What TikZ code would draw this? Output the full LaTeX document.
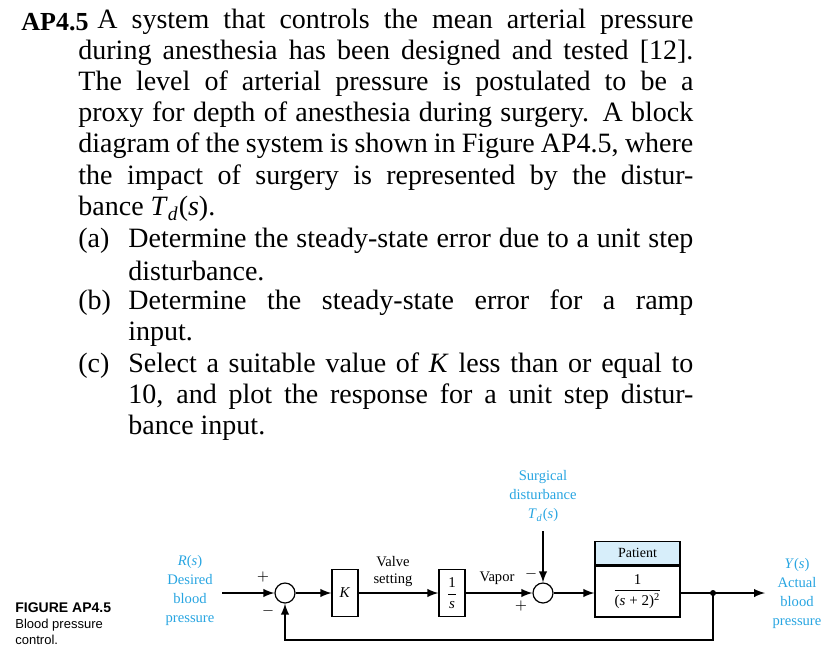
\documentclass[tikz,border=0pt]{standalone}
\usepackage{amsmath}
\usepackage{fontspec}
\setmainfont{Liberation Serif}
\newfontfamily\sansf{Liberation Sans}
\usetikzlibrary{positioning}
\definecolor{lblue}{RGB}{40,165,225}
\definecolor{hdr}{RGB}{215,238,250}
\newcommand{\mv}[1]{\textit{#1}}
\begin{document}
\begin{tikzpicture}
[x=0.5pt,y=-0.5pt,
 lineDecorate/.style={-latex,line width=0.9pt},
 blockDecorate/.style={draw,line width=0.6pt,minimum width=13pt,minimum height=23.5pt,inner sep=1pt,font=\fontsize{7.5}{8}\selectfont},
 sumDecorate/.style={shape=circle,draw,line width=0.6pt,minimum size=10pt,inner sep=0pt},
 lblDecorate/.style={text=lblue,align=center,font=\fontsize{7.3}{9.5}\selectfont},
 txtDecorate/.style={anchor=west,inner sep=0pt,font=\fontsize{14}{15.5}\selectfont},
 sgnDecorate/.style={font=\fontsize{7}{8}\selectfont,inner sep=0pt}]
\useasboundingbox (0,0) rectangle (822,664);

% problem text
\node[txtDecorate,font=\fontsize{13}{15.5}\selectfont] (head) at (21,22) {\textbf{AP4.5}};
\node[txtDecorate] (t1) at (97,22) {\makebox[298pt][s]{A system that controls the mean arterial pressure}};
\node[txtDecorate] (t2) at (78,53) {\makebox[307.5pt][s]{during anesthesia has been designed and tested [12].}};
\node[txtDecorate] (t3) at (78,84) {\makebox[307.5pt][s]{The level of arterial pressure is postulated to be a}};
\node[txtDecorate] (t4) at (78,115) {\makebox[307.5pt][s]{proxy for depth of anesthesia during surgery. A block}};
\node[txtDecorate] (t5) at (78,146) {\makebox[307.5pt][s]{diagram of the system is shown in Figure AP4.5, where}};
\node[txtDecorate] (t6) at (78,178) {\makebox[307.5pt][s]{the impact of surgery is represented by the distur-}};
\node[txtDecorate] (t7) at (78,209) {bance \mv{T}\textsubscript{\mv{d}}(\mv{s}).};
\node[txtDecorate] (pa) at (78,241) {(a)};
\node[txtDecorate] (t8) at (128,241) {\makebox[282.5pt][s]{Determine the steady-state error due to a unit step}};
\node[txtDecorate] (t9) at (128,271) {disturbance.};
\node[txtDecorate] (pb) at (78,303) {(b)};
\node[txtDecorate] (t10) at (128,303) {\makebox[282.5pt][s]{Determine the steady-state error for a ramp}};
\node[txtDecorate] (t11) at (128,334) {input.};
\node[txtDecorate] (pc) at (78,366) {(c)};
\node[txtDecorate] (t12) at (128,366) {\makebox[282.5pt][s]{Select a suitable value of \mv{K} less than or equal to}};
\node[txtDecorate] (t13) at (128,397) {\makebox[282.5pt][s]{10, and plot the response for a unit step distur-}};
\node[txtDecorate] (t14) at (128,428) {bance input.};

% caption
\node[anchor=north west,inner sep=0pt,align=left,font=\sansf\fontsize{6.5}{8}\selectfont] (cap) at (15,602)
 {\textbf{\fontsize{7}{8}\selectfont FIGURE AP4.5}\\Blood pressure\\control.};

% block diagram
\node[sumDecorate] (S1) at (285,593) {};
\node[blockDecorate] (K) at (345,593) {\mv{K}};
\node[blockDecorate] (I) at (452,593) {$\dfrac{\text{1}}{\text{\mv{s}}}$};
\node[sumDecorate] (S2) at (543,593) {};
\node[draw,line width=0.6pt,minimum width=42.5pt,minimum height=25.5pt,inner sep=0pt,font=\fontsize{7.5}{8}\selectfont] (P) at (637.5,591.5) {$\dfrac{\text{1}}{\text{(\mv{s} + 2)}^{\text{2}}}$};
\node[draw,line width=0.6pt,fill=hdr,minimum width=42.5pt,minimum height=11.5pt,inner sep=0pt,anchor=south,font=\fontsize{7}{8}\selectfont] (Ph) at (P.north) {Patient};
\coordinate (R0) at (222,593);
\coordinate (B) at (713,593);
\coordinate (Y0) at (765,593);
\coordinate (F1) at (713,640);
\coordinate (F2) at (285,640);
\coordinate (T0) at (543,531);

\node[lblDecorate] (Rl) at (190,590) {\mv{R}(\mv{s})\\Desired\\blood\\pressure};
\node[lblDecorate] (Yl) at (797,593) {\mv{Y}(\mv{s})\\Actual\\blood\\pressure};
\node[lblDecorate,above=1pt of T0] (Tl) {Surgical\\disturbance\\\mv{T}\textsubscript{\mv{d}}(\mv{s})};
\node[align=center,font=\fontsize{7.3}{8.5}\selectfont] (vs) at (393,571) {Valve\\setting};
\node[font=\fontsize{7.3}{8}\selectfont] (vp) at (497,578) {Vapor};
\node[sgnDecorate] at (263,577) {$+$};
\node[sgnDecorate] at (268,611) {$-$};
\node[sgnDecorate] at (531,574) {$-$};
\node[sgnDecorate] at (521,606) {$+$};

\draw[lineDecorate] (R0) -- (S1);
\draw[lineDecorate] (S1) -- (K);
\draw[lineDecorate] (K) -- (I);
\draw[lineDecorate] (I) -- (S2);
\draw[lineDecorate] (T0) -- (S2);
\draw[lineDecorate] (S2) -- (S2 -| P.west);
\draw[lineDecorate] (P.east |- B) -- (Y0);
\draw[lineDecorate] (B) -- (F1) -- (F2) -- (S1);
\fill (B) circle (1.5pt);
\end{tikzpicture}
\end{document}
